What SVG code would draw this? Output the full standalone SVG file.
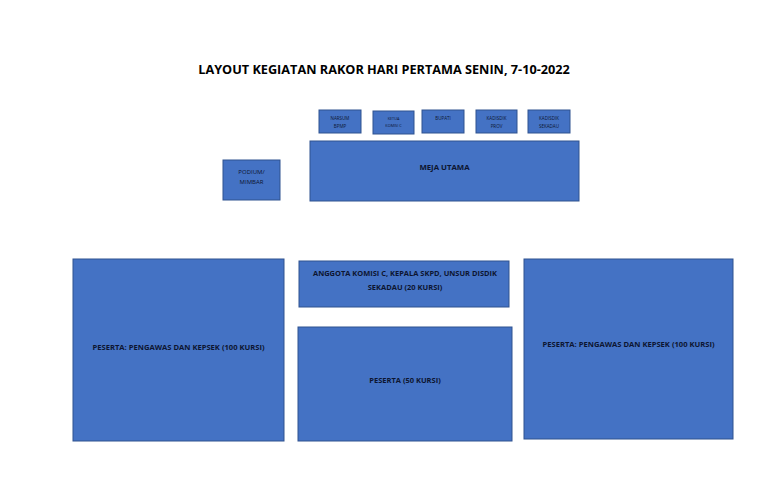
<svg xmlns="http://www.w3.org/2000/svg" width="768" height="503" viewBox="0 0 768 503">
<style>
.b{fill:#4472C4;stroke:#2F528F;stroke-width:1}
.t{font-family:"Open Sans","Liberation Sans",sans-serif;font-weight:bold;fill:#0d1530;text-anchor:middle}
.s{font-size:4.5px;font-weight:normal}
.m{font-size:7.5px}
.h{font-family:"Open Sans","Liberation Sans",sans-serif;font-weight:bold;font-size:12.7px;fill:#000;text-anchor:middle}
</style>
<rect width="768" height="503" fill="#fff"/>
<text class="h" x="384" y="74">LAYOUT KEGIATAN RAKOR HARI PERTAMA SENIN, 7-10-2022</text>
<g id="narsum"><rect class="b" x="319" y="110" width="42" height="23"/><text class="t s" x="340" y="120">NARSUM</text><text class="t s" x="340" y="128">BPMP</text></g>
<g id="ketua"><rect class="b" x="373" y="111" width="41" height="23"/><text class="t s" x="393.5" y="120" style="font-size:3.8px">KETUA</text><text class="t s" x="393.5" y="127" style="font-size:3.8px">KOMISI C</text></g>
<g id="bupati"><rect class="b" x="422" y="110" width="42" height="23"/><text class="t s" x="443" y="120">BUPATI</text></g>
<g id="kadisdik-prov"><rect class="b" x="476" y="110" width="41" height="23"/><text class="t s" x="496.5" y="120">KADISDIK</text><text class="t s" x="496.5" y="128">PROV</text></g>
<g id="kadisdik-sekadau"><rect class="b" x="528" y="110" width="42" height="23"/><text class="t s" x="549" y="120">KADISDIK</text><text class="t s" x="549" y="128">SEKADAU</text></g>
<g id="meja"><rect class="b" x="310" y="141" width="269" height="60"/><text class="t" x="444.5" y="170" style="font-size:7.8px">MEJA UTAMA</text></g>
<g id="podium"><rect class="b" x="223" y="160" width="57" height="40"/><text class="t" x="251.5" y="174" style="font-size:6px;font-weight:normal">PODIUM/</text><text class="t" x="251.5" y="184" style="font-size:6px;font-weight:normal">MIMBAR</text></g>
<g id="peserta-kiri"><rect class="b" x="73" y="259" width="211" height="182"/><text class="t" x="178.5" y="350" style="font-size:7.5px" textLength="172" lengthAdjust="spacingAndGlyphs">PESERTA: PENGAWAS DAN KEPSEK (100 KURSI)</text></g>
<g id="anggota"><rect class="b" x="299" y="261" width="210" height="46"/><text class="t m" x="405" y="276" textLength="184" lengthAdjust="spacingAndGlyphs">ANGGOTA KOMISI C, KEPALA SKPD, UNSUR DISDIK</text><text class="t m" x="405" y="290">SEKADAU (20 KURSI)</text></g>
<g id="peserta-50"><rect class="b" x="298" y="327" width="214" height="114"/><text class="t m" x="405" y="383">PESERTA (50 KURSI)</text></g>
<g id="peserta-kanan"><rect class="b" x="524" y="259" width="209" height="180"/><text class="t" x="628.5" y="347" style="font-size:7.5px" textLength="172" lengthAdjust="spacingAndGlyphs">PESERTA: PENGAWAS DAN KEPSEK (100 KURSI)</text></g>
<g id="connectors"/>
</svg>
